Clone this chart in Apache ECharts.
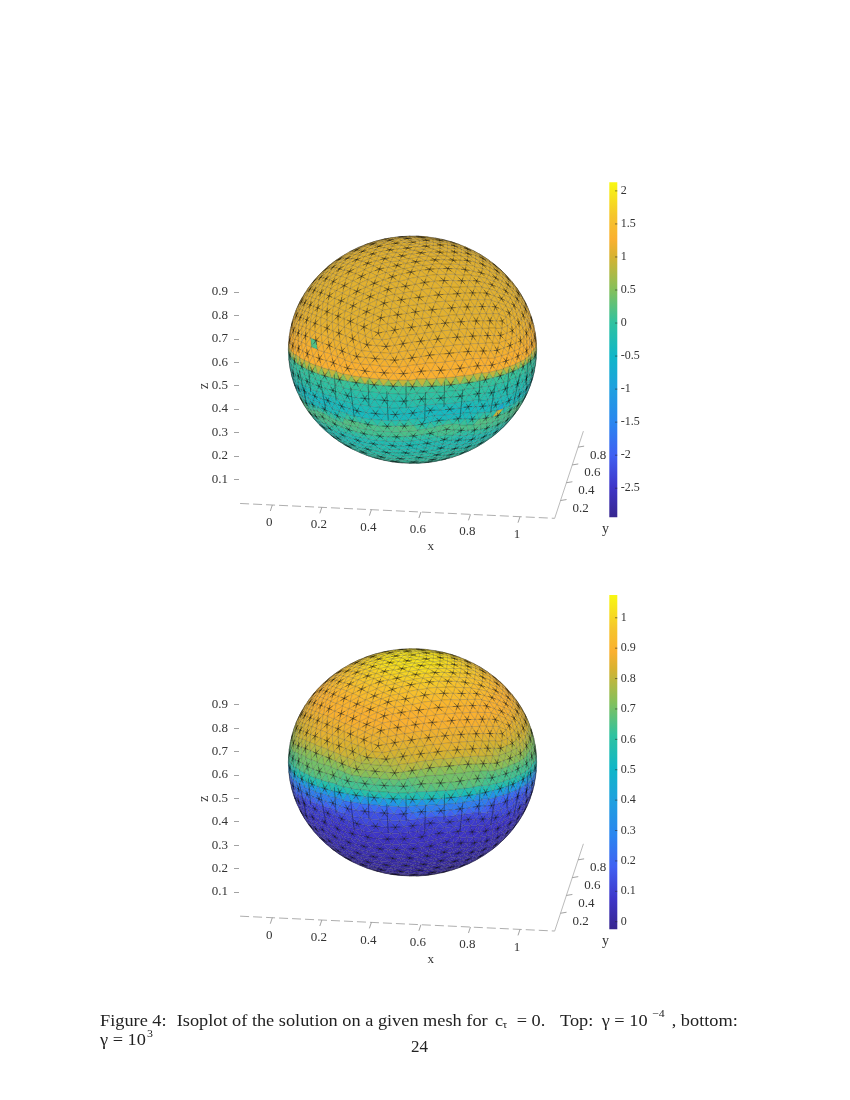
<!DOCTYPE html>
<html><head><meta charset="utf-8">
<style>html,body{margin:0;padding:0;background:#fff}#c{width:850px;height:1100px}</style>
<script src="https://cdn.jsdelivr.net/npm/echarts@6/dist/echarts.min.js"></script>
</head><body><div id="c"></div>
<script>
// ---- data ----
const latitudeBands = [90,85,80,75,70,65,60,55,50,45,40,35,30,25,20,15,10,5,0,-5,-10,-15,-20,-25,-30,-35,-40,-45,-50,-55,-60,-65,-70,-75,-80,-85,-90];
const solutionTop = [1.08,1.08,1.08,1.08,1.08,1.08,1.08,1.08,1.08,1.08,1.08,1.09,1.1,1.12,1.15,1.18,1.25,1.28,0.1,-0.02,-0.2,-0.4,-0.3,0.2,0.1,-0.2,-0.25,-0.15,-0.1,-0.05,0,0,0,0,0,0,0];
const solutionBottom = [1.03,1.03,1.03,1.02,1.0,0.98,0.96,0.94,0.92,0.9,0.89,0.875,0.86,0.84,0.81,0.76,0.70,0.64,0.5,0.26,0.14,0.1,0.08,0.065,0.05,0.04,0.03,0.02,0.01,0.01,0.005,0,0,0,0,0,0];
const spotsTop = [[-55,15,0.2],[49,-17,-0.75],[47,-22,0.9]];
const spotsBottom = [];
const colorbarTicksTop = [2,1.5,1,0.5,0,-0.5,-1,-1.5,-2,-2.5];
const colorbarTicksBottom = [1,0.9,0.8,0.7,0.6,0.5,0.4,0.3,0.2,0.1,0];
const colorbarRangeTop = [-2.94,2.13];
const colorbarRangeBottom = [-0.025,1.075];
const xTicks = [0,0.2,0.4,0.6,0.8,1];
const yTicks = [0.2,0.4,0.6,0.8];
const zTicks = [0.1,0.2,0.3,0.4,0.5,0.6,0.7,0.8,0.9];
const colormapOffsets = [0,0.09,0.185,0.28,0.38,0.48,0.58,0.68,0.78,0.83,0.9,1];
const colormapColors = ['#37268f','#3e35c8','#4060f2','#2a85f0','#1f9fe0','#0fb6c8','#2fc2a0','#85c05a','#d8b230','#fab030','#f5c52c','#f8f812'];
const meridianLongitudes = [-66,-57,-48,-39,-30,-21,-12,-3,6,15,24,33,42,51,60,69];

// ---- layout ----
const FONT = '"Liberation Serif","Times New Roman",serif';
const PANEL_SHIFT = 412.7;
const SPHERE = {cx:412.5, cy:349.7, rx:124.2, ry:113.7, tilt:19*Math.PI/180};
const AX = {o:[272.3,505], x:[247.7,11.7], y:[29.3,-89]};
const axisColor = '#8a8a8a', textColor = '#333';

// ---- sphere mesh ----
function icosphere(level){
  const t=(1+Math.sqrt(5))/2;
  let v=[[-1,t,0],[1,t,0],[-1,-t,0],[1,-t,0],[0,-1,t],[0,1,t],[0,-1,-t],[0,1,-t],[t,0,-1],[t,0,1],[-t,0,-1],[-t,0,1]];
  let f=[[0,11,5],[0,5,1],[0,1,7],[0,7,10],[0,10,11],[1,5,9],[5,11,4],[11,10,2],[10,7,6],[7,1,8],[3,9,4],[3,4,2],[3,2,6],[3,6,8],[3,8,9],[4,9,5],[2,4,11],[6,2,10],[8,6,7],[9,8,1]];
  const nz=p=>{const l=Math.hypot(p[0],p[1],p[2]);return [p[0]/l,p[1]/l,p[2]/l]};
  v=v.map(nz);
  for(let k=0;k<level;k++){
    const cache={},nf=[];
    const mid=(a,b)=>{const key=a<b?a+'_'+b:b+'_'+a;
      if(cache[key]===undefined){v.push(nz([v[a][0]+v[b][0],v[a][1]+v[b][1],v[a][2]+v[b][2]]));cache[key]=v.length-1;}
      return cache[key];};
    f.forEach(([a,b,c])=>{const ab=mid(a,b),bc=mid(b,c),ca=mid(c,a);nf.push([a,ab,ca],[b,bc,ab],[c,ca,bc],[ab,bc,ca]);});
    f=nf;
  }
  const a=Math.atan2(1,t),ca=Math.cos(a),sa=Math.sin(a);
  v=v.map(p=>[p[0]*ca-p[1]*sa, p[2], p[0]*sa+p[1]*ca]);
  return {v,f};
}
const mesh = icosphere(4);
const COARSE_VERTS = 642; // vertices of the previous subdivision level come first
const cosE=Math.cos(SPHERE.tilt), sinE=Math.sin(SPHERE.tilt);
const proj=p=>[SPHERE.cx+SPHERE.rx*p[0], SPHERE.cy-SPHERE.ry*(p[2]*cosE-p[1]*sinE)];
const depth=p=>p[2]*sinE+p[1]*cosE;
function bandValue(lat,table){
  const i=Math.max(0,Math.min(latitudeBands.length-1,Math.round((90-lat)/5)));
  return table[i];
}
function facets(table,spots){
  const out=[];
  mesh.f.forEach(tri=>{
    const P=tri.map(i=>mesh.v[i]);
    const m=[0,1,2].map(k=>(P[0][k]+P[1][k]+P[2][k])/3);
    if(depth(m)<=-0.005) return;
    let val=P.reduce((a,p)=>a+bandValue(Math.asin(p[2])*180/Math.PI,table),0)/3;
    const lat=Math.asin(m[2]/Math.hypot(m[0],m[1],m[2]))*180/Math.PI, lon=Math.atan2(m[0],m[1])*180/Math.PI;
    spots.forEach(q=>{if(Math.hypot(lon-q[0],lat-q[1])<2.1) val=q[2];});
    const a=proj(P[0]),b=proj(P[1]),d=proj(P[2]);
    out.push([a[0],a[1],b[0],b[1],d[0],d[1],val]);
  });
  return out;
}
// dark star-shaped arms round the coarse mesh nodes, plus short meridian edges in the equatorial belt
function meshArms(){
  const seen={},out=[];
  mesh.f.forEach(tri=>{
    for(let k=0;k<3;k++){
      let a=tri[k],b=tri[(k+1)%3];
      if(a>=COARSE_VERTS&&b>=COARSE_VERTS) continue;
      if(a>=COARSE_VERTS){const q=a;a=b;b=q;}
      const key=a+'_'+b; if(seen[key]) continue; seen[key]=1;
      const A=mesh.v[a],B=mesh.v[b];
      if(depth(A)<0.05||depth(B)<0.05) continue;
      const M=[0,1,2].map(i=>A[i]+(B[i]-A[i])*0.5);
      const p=proj(A),q=proj(M);
      out.push([p[0],p[1],q[0],q[1]]);
    }
  });
  const sph=(lon,lat)=>{const L=lon*Math.PI/180,l=lat*Math.PI/180;return [Math.cos(l)*Math.sin(L),Math.cos(l)*Math.cos(L),Math.sin(l)];};
  meridianLongitudes.forEach((lon,i)=>{
    const hi=i%2?2:-3, lo=i%2?-12:-20;
    const p=proj(sph(lon,hi)),q=proj(sph(lon,lo));
    out.push([p[0],p[1],q[0],q[1]]);
  });
  return out;
}
const arms=meshArms();
function colorOf(t){
  t=Math.max(0,Math.min(1,t));
  let i=0; while(i<colormapOffsets.length-2&&t>colormapOffsets[i+1]) i++;
  const f=(t-colormapOffsets[i])/(colormapOffsets[i+1]-colormapOffsets[i]);
  const h=x=>[parseInt(x.slice(1,3),16),parseInt(x.slice(3,5),16),parseInt(x.slice(5,7),16)];
  const A=h(colormapColors[i]),B=h(colormapColors[i+1]);
  return 'rgb('+A.map((v,k)=>Math.round(v+(B[k]-v)*f)).join(',')+')';
}

// ---- series ----
function sphereSeries(idx,table,spots,range){
  return {type:'custom',xAxisIndex:idx,yAxisIndex:idx,silent:true,animation:false,progressive:0,clip:false,
    encode:{x:0,y:1},data:facets(table,spots),z:2,
    renderItem:(p,api)=>{
      const a=api.coord([api.value(0),api.value(1)]),b=api.coord([api.value(2),api.value(3)]),c=api.coord([api.value(4),api.value(5)]);
      return {type:'polygon',shape:{points:[a,b,c]},
        style:{fill:colorOf((api.value(6)-range[0])/(range[1]-range[0])),stroke:'rgba(0,0,0,0.28)',lineWidth:0.5}};
    }};
}
function armSeries(idx){
  return {type:'custom',xAxisIndex:idx,yAxisIndex:idx,silent:true,animation:false,progressive:0,clip:false,
    encode:{x:0,y:1},data:arms,z:3,
    renderItem:(p,api)=>{
      const a=api.coord([api.value(0),api.value(1)]),b=api.coord([api.value(2),api.value(3)]);
      return {type:'line',shape:{x1:a[0],y1:a[1],x2:b[0],y2:b[1]},style:{stroke:'rgba(0,0,0,0.5)',lineWidth:0.7}};
    }};
}
const world=(x,y)=>[AX.o[0]+x*AX.x[0]+y*AX.y[0], AX.o[1]+x*AX.x[1]+y*AX.y[1]];
function axisSeries(idx){
  const items=[['lineX',-0.13,1.14],['lineY',0,0.98]];
  xTicks.forEach(v=>items.push(['tickX',v]));
  yTicks.forEach(v=>items.push(['tickY',v]));
  items.push(['titleX'],['titleY'],['titleZ']);
  const txt=(x,y,t,size,rot)=>({type:'text',x,y,rotation:rot||0,style:{text:t,fill:textColor,font:size+'px '+FONT,textAlign:'center',textVerticalAlign:'middle'}});
  return {type:'custom',xAxisIndex:idx,yAxisIndex:idx,silent:true,animation:false,clip:false,
    data:items.map((it,i)=>[0,0,i]),encode:{x:0,y:1},
    renderItem:(p,api)=>{
      const it=items[p.dataIndex],C=q=>api.coord(q);
      const line=(a,b,dash,col)=>({type:'line',shape:{x1:a[0],y1:a[1],x2:b[0],y2:b[1]},style:{stroke:col||axisColor,lineWidth:0.8,lineDash:dash||null}});
      if(it[0]==='lineX') return line(C(world(it[1],0)),C(world(it[2],0)),[9,4],'#999');
      if(it[0]==='lineY') return line(C(world(1.14,0)),C(world(1.14,it[2])),null,'#aaa');
      if(it[0]==='tickX'){const w=world(it[1],0);return {type:'group',children:[
        line(C(w),C([w[0]-2,w[1]+6])),
        txt(...C([w[0]-3,w[1]+17.7]),String(it[1]),13)]};}
      if(it[0]==='tickY'){const w=world(1.14,it[1]);return {type:'group',children:[
        line(C(w),C([w[0]+6,w[1]-1])),
        txt(...C([w[0]+20,w[1]+8]),String(it[1]),13)]};}
      if(it[0]==='titleX') return txt(...C([430.7,546.7]),'x',13);
      if(it[0]==='titleY') return txt(...C([605.5,529]),'y',14);
      return txt(...C([204,386]),'z',14,Math.PI/2);
    }};
}
function colorbarSeries(idx,range,ticks){
  const rows=[[0,range[0],1,range[1]]].concat(ticks.map(v=>[0.72,v,1,v]));
  return {type:'custom',xAxisIndex:idx,yAxisIndex:idx,silent:true,animation:false,clip:false,
    data:rows,encode:{x:0,y:1},z:4,
    renderItem:(p,api)=>{
      const a=api.coord([api.value(0),api.value(1)]),b=api.coord([api.value(2),api.value(3)]);
      if(p.dataIndex===0) return {type:'rect',shape:{x:a[0],y:b[1],width:b[0]-a[0],height:a[1]-b[1]},
        style:{fill:new echarts.graphic.LinearGradient(0,1,0,0,colormapColors.map((c,i)=>({offset:colormapOffsets[i],color:c})))}};
      return {type:'line',shape:{x1:a[0],y1:a[1],x2:b[0],y2:b[1]},style:{stroke:'rgba(40,40,40,0.75)',lineWidth:0.8}};
    }};
}

// ---- grids and axes ----
const grids=[],xAxes=[],yAxes=[],series=[];
function addPanel(off,table,spots,range,cbTicks,cbTop,cbHeight){
  const plane=grids.length;
  grids.push({left:190,top:170+off,width:450,height:400});
  xAxes.push({type:'value',min:190,max:640,show:false,gridIndex:plane});
  yAxes.push({type:'value',min:170,max:570,inverse:true,show:false,gridIndex:plane});
  series.push(sphereSeries(plane,table,spots,range),armSeries(plane),axisSeries(plane));

  const zg=grids.length;
  grids.push({left:239,top:268.6+off,width:1,height:234});
  xAxes.push({type:'value',min:0,max:1,show:false,gridIndex:zg});
  yAxes.push({type:'value',min:0,max:1,gridIndex:zg,position:'left',splitLine:{show:false},axisLine:{show:false},
    axisTick:{show:true,length:5,customValues:zTicks,lineStyle:{color:axisColor,width:0.8}},
    axisLabel:{customValues:zTicks,margin:11,color:textColor,fontFamily:FONT,fontSize:13,formatter:v=>String(v)}});

  const cg=grids.length;
  grids.push({left:609.3,top:cbTop,width:8,height:cbHeight});
  xAxes.push({type:'value',min:0,max:1,show:false,gridIndex:cg});
  yAxes.push({type:'value',min:range[0],max:range[1],gridIndex:cg,position:'right',splitLine:{show:false},axisLine:{show:false},
    axisTick:{show:false},
    axisLabel:{customValues:cbTicks,margin:3.5,color:textColor,fontFamily:FONT,fontSize:12,formatter:v=>String(v)}});
  series.push(colorbarSeries(cg,range,cbTicks));
}
addPanel(0,solutionTop,spotsTop,colorbarRangeTop,colorbarTicksTop,182.3,335);
addPanel(PANEL_SHIFT,solutionBottom,spotsBottom,colorbarRangeBottom,colorbarTicksBottom,595,334.3);

const CAP=1.076;
const t=(x,y,text,size,sx)=>({type:'text',x,y,silent:true,scaleX:sx||CAP,style:{text,fill:'#222',font:(size||17)+'px '+FONT,textVerticalAlign:'top'}});
const chart=echarts.init(document.getElementById('c'),null,{renderer:'canvas',width:850,height:1100});
chart.setOption({animation:false,backgroundColor:'#fff',grid:grids,xAxis:xAxes,yAxis:yAxes,series,
  graphic:[
    t(100,1013,'Figure 4:'),t(176.7,1013,'Isoplot of the solution on a given mesh for'),
    t(495,1013,'c'),t(502.5,1020,'τ',11),t(516.7,1013,'= 0.'),t(560,1013,'Top:'),
    t(601.7,1013,'γ = 10'),t(652,1009,'−4',11),t(671.7,1013,', bottom:'),
    t(100,1032,'γ = 10'),t(147,1029,'3',11),
    t(411,1039,'24',17,1)
  ]});
</script></body></html>
